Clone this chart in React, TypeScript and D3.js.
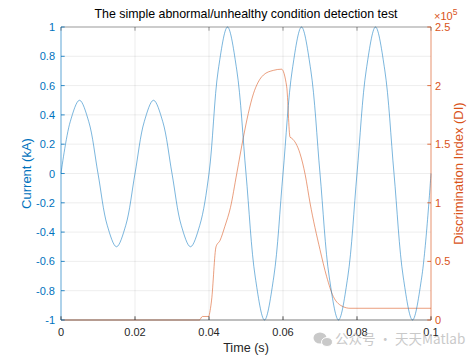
import React from 'react';
import * as d3 from 'd3';

const W = 474;
const H = 357;
const M = { left: 61, right: 43, top: 27, bottom: 37 };

const timeCurrent = [
  0, 0.0025, 0.005, 0.0075, 0.01, 0.0125, 0.015, 0.0175, 0.02, 0.0225, 0.025, 0.0275, 0.03, 0.0325, 0.035, 0.0375,
  0.04, 0.0425, 0.045, 0.0475, 0.05, 0.0525, 0.055, 0.0575, 0.06, 0.0625, 0.065, 0.0675, 0.07, 0.0725, 0.075, 0.0775,
  0.08, 0.0825, 0.085, 0.0875, 0.09, 0.0925, 0.095, 0.0975, 0.1,
];
const current = [
  0, 0.354, 0.5, 0.354, 0, -0.354, -0.5, -0.354, 0, 0.354, 0.5, 0.354, 0, -0.354, -0.5, -0.354,
  0, 0.707, 1, 0.707, 0, -0.707, -1, -0.707, 0, 0.707, 1, 0.707, 0, -0.707, -1, -0.707,
  0, 0.707, 1, 0.707, 0, -0.707, -1, -0.707, 0,
];

// Discrimination index (DI)
const timeDI = [
  0, 0.0374, 0.0382, 0.0399, 0.0403, 0.0407, 0.0419, 0.043, 0.0443, 0.0458, 0.0475, 0.0493, 0.0506, 0.052, 0.0533,
  0.0547, 0.0574, 0.0596, 0.061, 0.0619, 0.0624, 0.0646, 0.066, 0.0673, 0.07, 0.0718, 0.0736, 0.0763, 0.0781, 0.1,
];
const di = [
  0, 0, 3000, 3000, 8000, 17000, 62500, 68000, 80000, 96000, 125000, 156000, 176000, 193000, 203000,
  209000, 213000, 214000, 199000, 156000, 155000, 142000, 124000, 100000, 60000, 37000, 20000, 11300, 10000, 10000,
];

const xTicks = [0, 0.02, 0.04, 0.06, 0.08, 0.1];
const xTickLabels = ['0', '0.02', '0.04', '0.06', '0.08', '0.1'];
const leftTicks = [-1, -0.8, -0.6, -0.4, -0.2, 0, 0.2, 0.4, 0.6, 0.8, 1];
const leftTickLabels = ['-1', '-0.8', '-0.6', '-0.4', '-0.2', '0', '0.2', '0.4', '0.6', '0.8', '1'];
const rightTicks = [0, 50000, 100000, 150000, 200000, 250000];
const rightTickLabels = ['0', '0.5', '1', '1.5', '2', '2.5'];

const BLUE = '#0072BD';
const ORANGE = '#D95319';
const FONT = '"Liberation Sans", Arial, Helvetica, sans-serif';

export default function App() {
  const x0 = M.left;
  const x1 = W - M.right;
  const y0 = M.top;
  const y1 = H - M.bottom;
  const x = d3.scaleLinear().domain([0, 0.1]).range([x0, x1]);
  const yL = d3.scaleLinear().domain([-1, 1]).range([y1, y0]);
  const yR = d3.scaleLinear().domain([0, 250000]).range([y1, y0]);

  const curLine = d3
    .line<number>()
    .x((_, i) => x(timeCurrent[i]))
    .y((d) => yL(d))
    .curve(d3.curveCatmullRom);
  const diLine = d3
    .line<number>()
    .x((_, i) => x(timeDI[i]))
    .y((d) => yR(d))
    .curve(d3.curveMonotoneX);

  const tickLen = 3.7;

  return (
    <svg
      width={W}
      height={H}
      style={{ position: 'absolute', left: 0, top: 0, background: '#fff' }}
      fontFamily={FONT}
    >
      <rect x={0} y={0} width={W} height={H} fill="#fff" />
      {/* grid */}
      <g stroke="#262626" strokeOpacity={0.1} strokeWidth={0.8}>
        {xTicks.slice(1, -1).map((t) => (
          <line key={'gx' + t} x1={x(t)} x2={x(t)} y1={y0} y2={y1} />
        ))}
        {leftTicks.slice(1, -1).map((t) => (
          <line key={'gy' + t} x1={x0} x2={x1} y1={yL(t)} y2={yL(t)} />
        ))}
      </g>

      {/* data */}
      <path d={diLine(di) || ''} fill="none" stroke={ORANGE} strokeWidth={0.8} strokeOpacity={0.7} />
      <path d={curLine(current) || ''} fill="none" stroke={BLUE} strokeWidth={0.8} strokeOpacity={0.65} />

      {/* box */}
      <line x1={x0} x2={x1} y1={y0} y2={y0} stroke="#262626" strokeOpacity={0.6} strokeWidth={0.8} />
      <line x1={x0} x2={x1} y1={y1} y2={y1} stroke="#262626" strokeOpacity={0.75} strokeWidth={0.8} />
      <line x1={x0} x2={x0} y1={y0} y2={y1} stroke={BLUE} strokeOpacity={0.8} strokeWidth={0.8} />
      <line x1={x1} x2={x1} y1={y0} y2={y1} stroke={ORANGE} strokeOpacity={0.8} strokeWidth={0.8} />

      {/* x ticks */}
      <g>
        {xTicks.map((t, i) => (
          <g key={'xt' + t}>
            <line x1={x(t)} x2={x(t)} y1={y1} y2={y1 - tickLen} stroke="#262626" strokeWidth={0.8} />
            <line x1={x(t)} x2={x(t)} y1={y0} y2={y0 + tickLen} stroke="#262626" strokeOpacity={0.6} strokeWidth={0.8} />
            <text x={x(t)} y={y1 + 16} textAnchor="middle" fontSize={11} fill="#262626">
              {xTickLabels[i]}
            </text>
          </g>
        ))}
      </g>
      {/* left ticks */}
      <g>
        {leftTicks.map((t, i) => (
          <g key={'lt' + t}>
            <line x1={x0} x2={x0 + tickLen} y1={yL(t)} y2={yL(t)} stroke={BLUE} strokeWidth={0.8} />
            <text x={x0 - 6} y={yL(t) + 4} textAnchor="end" fontSize={11} fill={BLUE}>
              {leftTickLabels[i]}
            </text>
          </g>
        ))}
      </g>
      {/* right ticks */}
      <g>
        {rightTicks.map((t, i) => (
          <g key={'rt' + t}>
            <line x1={x1} x2={x1 - tickLen} y1={yR(t)} y2={yR(t)} stroke={ORANGE} strokeWidth={0.8} />
            <text x={x1 + 4} y={yR(t) + 4} textAnchor="start" fontSize={11} fill={ORANGE}>
              {rightTickLabels[i]}
            </text>
          </g>
        ))}
        <text x={x1 + 3} y={y0 - 7} fontSize={11} fill={ORANGE}>
          ×10
          <tspan dy={-5} fontSize={8.5}>
            5
          </tspan>
        </text>
      </g>

      {/* labels */}
      <text x={(x0 + x1) / 2} y={18} textAnchor="middle" fontSize={12.4} fill="#000">
        The simple abnormal/unhealthy condition detection test
      </text>
      <text x={(x0 + x1) / 2} y={352} textAnchor="middle" fontSize={12.6} fill="#262626">
        Time (s)
      </text>
      <text
        transform={`translate(31, ${(y0 + y1) / 2}) rotate(-90)`}
        textAnchor="middle"
        fontSize={13}
        fill={BLUE}
      >
        Current (kA)
      </text>
      <text
        transform={`translate(463, ${(y0 + y1) / 2}) rotate(-90)`}
        textAnchor="middle"
        fontSize={13}
        fill={ORANGE}
      >
        Discrimination Index (DI)
      </text>

      {/* watermark */}
      <g opacity={0.75}>
        <ellipse cx={320} cy={338} rx={6.5} ry={5.5} fill="#b8b8b8" />
        <ellipse cx={327} cy={342} rx={5.5} ry={4.5} fill="#b8b8b8" stroke="#fff" strokeWidth={1} />
        <text x={335} y={344} fontSize={13.5} fill="#b8b8b8" fontFamily={'"Noto Sans CJK SC", ' + FONT}>
          公众号 · 天天Matlab
        </text>
      </g>
    </svg>
  );
}
